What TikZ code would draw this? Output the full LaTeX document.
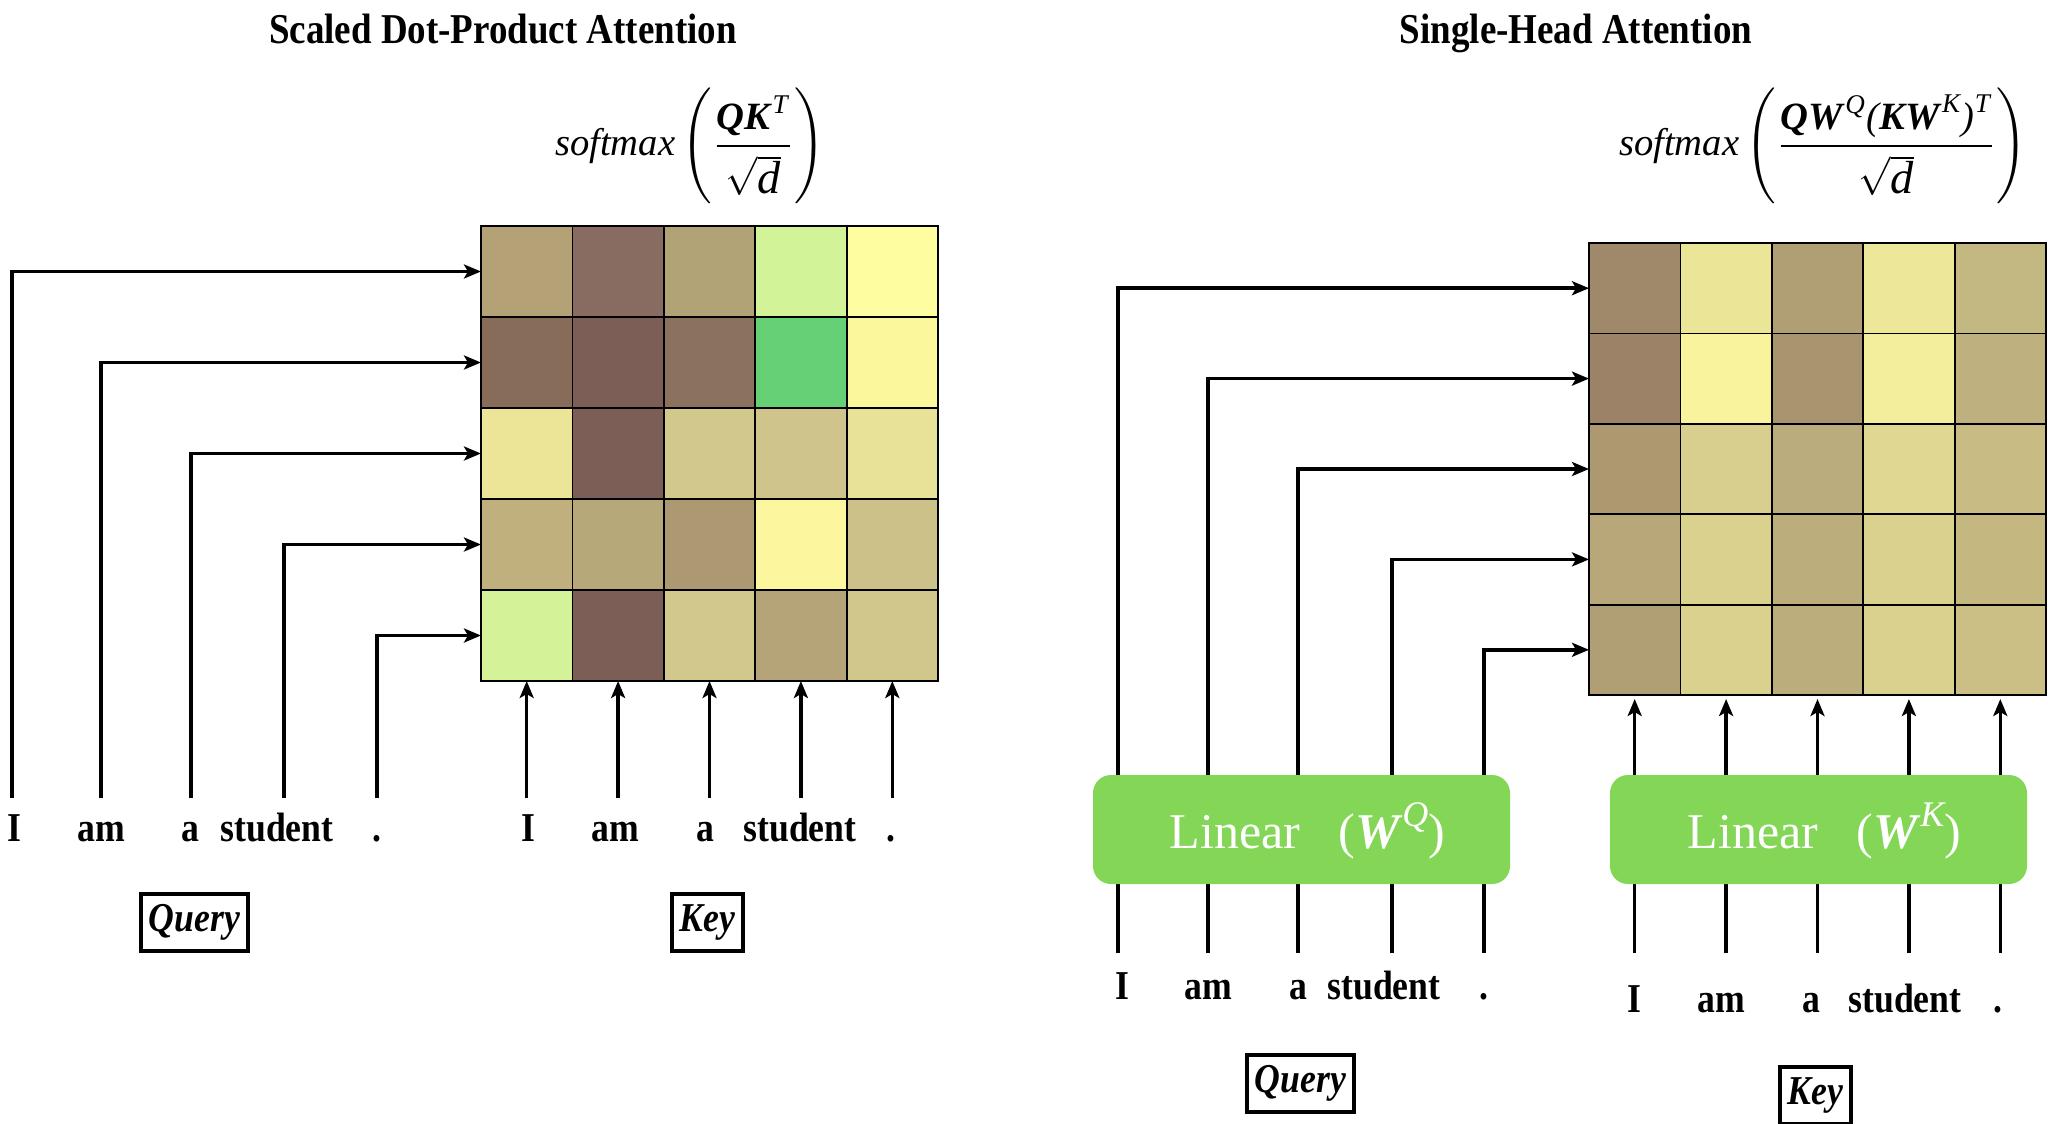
\documentclass[tikz,border=0pt]{standalone}
\usepackage{fontspec}
\usepackage{amsmath}
\usepackage{graphicx}
\setmainfont{Liberation Serif}
\newfontfamily\cond{Liberation Serif}[FakeStretch=0.87]
\usetikzlibrary{arrows.meta}
\definecolor{lingreen}{RGB}{132,214,86}
\tikzset{
  cellL/.style={draw=black, line width=1.8pt, minimum width=91.4pt, minimum height=91pt, inner sep=0pt, outer sep=0pt},
  cellR/.style={draw=black, line width=1.8pt, minimum width=91.4pt, minimum height=90.4pt, inner sep=0pt, outer sep=0pt},
  conn/.style={line width=3.5pt},
  arr/.style={conn, -{Stealth[length=17pt,width=14pt,inset=4pt]}},
  word/.style={anchor=base, inner sep=0pt, font=\cond\bfseries\fontsize{41}{49}\selectfont},
  lab/.style={draw=black, line width=4pt, font=\cond\bfseries\itshape\fontsize{41}{49}\selectfont, minimum height=57pt, inner xsep=8pt, inner ysep=0pt},
  ttl/.style={anchor=base, inner sep=0pt, font=\cond\bfseries\fontsize{42.5}{50}\selectfont},
  formula/.style={anchor=west, inner sep=0pt, font=\fontsize{10}{12}\selectfont},
  linbox/.style={fill=lingreen, rounded corners=18pt, minimum width=417pt, minimum height=109pt, text=white, inner sep=0pt, text height=40pt, text depth=3pt, font=\fontsize{50}{60}\selectfont}
}
\newcommand\cellL[3]{\definecolor{cc}{HTML}{#3}\node[cellL, fill=cc] (L#1#2) at ({481+91.4*(#2-0.5)},{226+91*(#1-0.5)}) {};}
\newcommand\cellR[3]{\definecolor{cc}{HTML}{#3}\node[cellR, fill=cc] (R#1#2) at ({1589+91.4*(#2-0.5)},{243+90.4*(#1-0.5)}) {};}
\newcommand\denomd{\rule{0pt}{11pt}\sqrt{\text{\fontsize{12}{14}\selectfont\itshape d}}}
\begin{document}
\begin{tikzpicture}[x=1pt,y=-1pt]
\useasboundingbox (0,0) rectangle (2048,1124);
\fill[white] (0,0) rectangle (2048,1124);

% titles
\node[ttl] (t1) at (503,44) {Scaled Dot-Product Attention};
\node[ttl] (t2) at (1576,44) {Single-Head Attention};

% formulas
\node[formula] (f1) at (555,146) {\scalebox{3.86}{\itshape softmax\,$\Biggl(\dfrac{\text{\bfseries\itshape QK\/}^{\text{\itshape T}}}{\denomd}\Biggr)$}};
\node[formula] (f2) at (1619,146) {\scalebox{3.86}{\itshape softmax\,$\Biggl(\dfrac{\text{\bfseries\itshape QW\/}^{\text{\itshape Q}}\text{(\bfseries\itshape KW\/}^{\text{\itshape K}}\text{)}^{\text{\itshape T}}}{\denomd}\Biggr)$}};

% left grid
\cellL{1}{1}{B4A276}\cellL{1}{2}{886C62}\cellL{1}{3}{B2A376}\cellL{1}{4}{D3F398}\cellL{1}{5}{FEFDA0}
\cellL{2}{1}{886C5A}\cellL{2}{2}{7C5E56}\cellL{2}{3}{8B725E}\cellL{2}{4}{66D076}\cellL{2}{5}{FAF79C}
\cellL{3}{1}{ECE598}\cellL{3}{2}{7C5E56}\cellL{3}{3}{D3C88C}\cellL{3}{4}{CFC48B}\cellL{3}{5}{E8E298}
\cellL{4}{1}{C0B07E}\cellL{4}{2}{B7A879}\cellL{4}{3}{AC9871}\cellL{4}{4}{FCF79E}\cellL{4}{5}{CDC18A}
\cellL{5}{1}{D4F398}\cellL{5}{2}{7C5E56}\cellL{5}{3}{D3C88C}\cellL{5}{4}{B6A479}\cellL{5}{5}{D2C78B}

% right grid
\cellR{1}{1}{A0886A}\cellR{1}{2}{EBE598}\cellR{1}{3}{B09F74}\cellR{1}{4}{EDE799}\cellR{1}{5}{C4B882}
\cellR{2}{1}{9C8367}\cellR{2}{2}{F8F39C}\cellR{2}{3}{A8946F}\cellR{2}{4}{F2EE9B}\cellR{2}{5}{BEB07F}
\cellR{3}{1}{AC9970}\cellR{3}{2}{D8CF8E}\cellR{3}{3}{BAAC7C}\cellR{3}{4}{E0D892}\cellR{3}{5}{C8BC84}
\cellR{4}{1}{B8A778}\cellR{4}{2}{DAD18F}\cellR{4}{3}{BCAD7D}\cellR{4}{4}{DAD18F}\cellR{4}{5}{C4B780}
\cellR{5}{1}{B09F74}\cellR{5}{2}{DAD18F}\cellR{5}{3}{BCAD7D}\cellR{5}{4}{DAD18F}\cellR{5}{5}{CBBF85}

% left side connectors
\coordinate (lq1) at (12,798);
\coordinate (lq2) at (101,798);
\coordinate (lq3) at (191,798);
\coordinate (lq4) at (284,798);
\coordinate (lq5) at (377,798);
\draw[arr] (lq1) |- (L11.west);
\draw[arr] (lq2) |- (L21.west);
\draw[arr] (lq3) |- (L31.west);
\draw[arr] (lq4) |- (L41.west);
\draw[arr] (lq5) |- (L51.west);
\foreach \c in {1,...,5}{
  \coordinate (lk\c) at (L5\c.south |- 0,798);
  \draw[arr] (lk\c) -- (L5\c.south);
}

% right side connectors
\coordinate (rq1) at (1118,953);
\coordinate (rq2) at (1208,953);
\coordinate (rq3) at (1298,953);
\coordinate (rq4) at (1392,953);
\coordinate (rq5) at (1484,953);
\draw[arr] (rq1) |- (R11.west);
\draw[arr] (rq2) |- (R21.west);
\draw[arr] (rq3) |- (R31.west);
\draw[arr] (rq4) |- (R41.west);
\draw[arr] (rq5) |- (R51.west);
\foreach \c in {1,...,5}{
  \coordinate (rk\c) at (R5\c.south |- 0,953);
  \draw[arr, shorten >=4pt] (rk\c) -- (R5\c.south);
}

% linear boxes
\node[linbox] (linQ) at (1301.5,829.5) {\hspace*{12pt}Linear\hspace{38pt}(\textbf{\textit{W}}\raisebox{22pt}{\fontsize{36}{40}\selectfont\itshape Q})};
\node[linbox] (linK) at (1818.5,829.5) {\hspace*{12pt}Linear\hspace{38pt}(\textbf{\textit{W}}\raisebox{22pt}{\fontsize{36}{40}\selectfont\itshape K})};

% words left query
\node[word] (wlq1) at (14,841) {I};
\node[word] (wlq2) at (101,841) {am};
\node[word] (wlq3) at (190,841) {a};
\node[word] (wlq4) at (277,841) {student};
\node[word] (wlq5) at (377,841) {.};
% words left key
\node[word] (wlk1) at (528,841) {I};
\node[word] (wlk2) at (615,841) {am};
\node[word] (wlk3) at (705,841) {a};
\node[word] (wlk4) at (800,841) {student};
\node[word] (wlk5) at (891,841) {.};
% words right query
\node[word] (wrq1) at (1122,999) {I};
\node[word] (wrq2) at (1208,999) {am};
\node[word] (wrq3) at (1298,999) {a};
\node[word] (wrq4) at (1384,999) {student};
\node[word] (wrq5) at (1484,999) {.};
% words right key
\node[word] (wrk1) at (1634,1012) {I};
\node[word] (wrk2) at (1721,1012) {am};
\node[word] (wrk3) at (1811,1012) {a};
\node[word] (wrk4) at (1905,1012) {student};
\node[word] (wrk5) at (1998,1012) {.};

% labels
\node[lab] (qL) at (194.5,922.5) {Query};
\node[lab] (kL) at (707.5,922.5) {Key};
\node[lab] (qR) at (1300.5,1083.5) {Query};
\node[lab] (kR) at (1815.5,1095.5) {Key};
\end{tikzpicture}
\end{document}
